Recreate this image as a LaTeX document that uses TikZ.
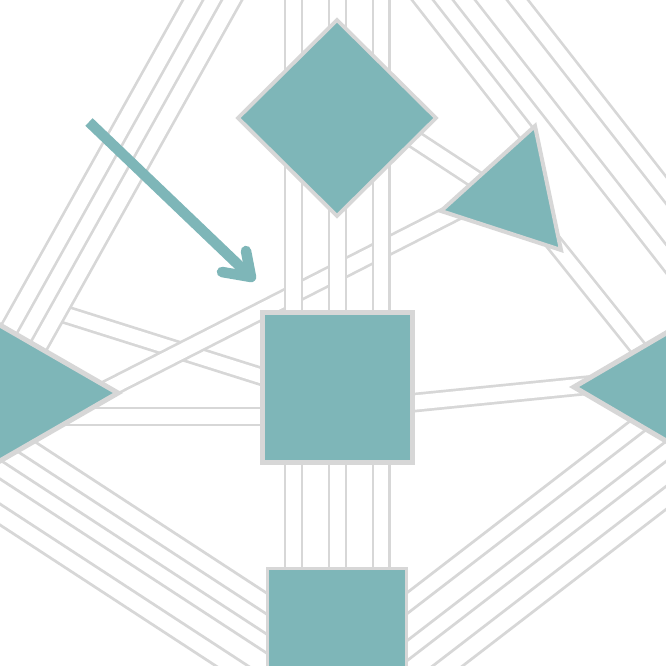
\documentclass[tikz,border=0pt]{standalone}
\definecolor{tealc}{HTML}{7EB6B8}
\definecolor{lg}{HTML}{D7D7D7}
\begin{document}
\begin{tikzpicture}[x=1pt,y=-1pt,
  chan/.style={draw=lg, line width=2.7pt, double=white, double distance=14.3pt},
  ln/.style={draw=lg, line width=2.7pt},
  ctr/.style={fill=tealc, draw=lg, line width=4.5pt, line join=miter},
  arrowline/.style={draw=tealc, line width=10.5pt}
]
\useasboundingbox (0,0) rectangle (666,666);
\clip (0,0) rectangle (666,666);
\fill[white] (0,0) rectangle (666,666);

% spleen -> sacral (upper, under the bundle)
\draw[chan,double distance=13.6pt] (60,312.9) -- (275,380.7);
% spleen -> heart
\draw[chan] (85,400.6) -- (470,204.3);
% vertical channels
\draw[chan] (293.5,-10) -- (293.5,680);
\draw[chan] (337.5,-10) -- (337.5,680);
\draw[chan,double distance=13.6pt] (381,-10) -- (381,680);
% spleen -> sacral horizontal
\draw[chan] (60,416.5) -- (275,416.5);
% sacral -> solar plexus
\draw[chan] (400,404) -- (600,384);
% G -> heart
\draw[chan] (400,129.8) -- (490,188.8);
% upper-left bundle (spleen -> throat)
\draw[chan,double distance=14.8pt] (198.6,-10) -- (-30.5,400);
\draw[chan,double distance=14.8pt] (237.6,-10) -- (8.5,400);
% heart -> throat
\draw[chan,double distance=13.8pt] (414.7,-10) -- (526.4,133);
% throat -> solar plexus
\draw[chan,double distance=14.6pt] (456.2,-10) -- (792,420);
\draw[chan,double distance=13.8pt] (509.7,-10) -- (845.6,420);
% heart -> solar plexus
\draw[chan,double distance=13.3pt] (540,225.5) -- (659.7,375);
% solar plexus -> root
\foreach \yy in {592,613,640,660,685,708}{
  \draw[ln] (395,\yy+10) -- (700,\yy-224.8);
}
% spleen -> root
\foreach \yy in {592,613,633,652,677,698}{
  \draw[ln] (-10,\yy-179.6) -- (280,\yy+9.8);
}

% centres
\filldraw[ctr,line width=3.8pt] (337,20) -- (436,118) -- (337,216) -- (238,118) -- cycle;
\filldraw[ctr,line width=4pt] (535,126) -- (561,250) -- (441,211) -- cycle;
\filldraw[ctr] (262.5,312.5) rectangle (412.5,462.5);
\filldraw[ctr,line width=3.5pt] (267.5,568.5) rectangle (406.5,720);
\filldraw[ctr,line width=5pt] (118,393) -- (-80,279) -- (-80,507) -- cycle;
\filldraw[ctr,line width=5pt] (574,387) -- (760,278) -- (760,496) -- cycle;

% arrow
\draw[arrowline] (89,122) -- (249,275);
\draw[arrowline, line cap=round, line join=round] (246,251) -- (251,277) -- (222,272);
\end{tikzpicture}
\end{document}
